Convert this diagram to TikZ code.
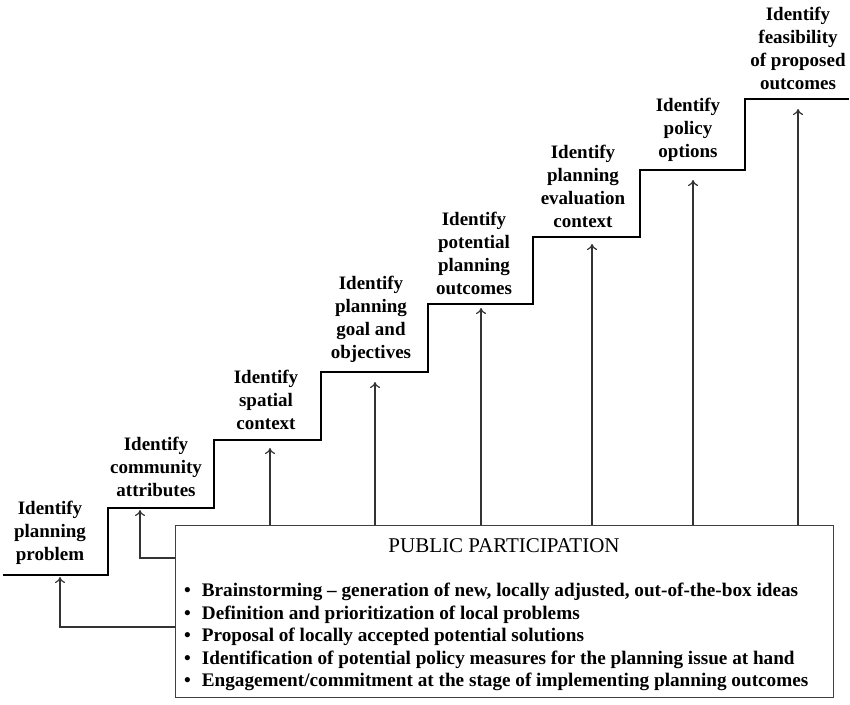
\documentclass[tikz,border=0pt]{standalone}
\usepackage{fontspec}
\setmainfont{Liberation Serif}
\usetikzlibrary{arrows.meta}
\begin{document}
\begin{tikzpicture}[x=1pt,y=-1pt,
  steplabel/.style={align=center,font=\bfseries\fontsize{19}{23}\selectfont,inner sep=0pt},
  stair/.style={line width=2.4pt,black,line join=miter},
  arr/.style={line width=1.1pt,draw=black!80,-{To[length=6pt,width=10pt,line width=1.2pt]}},
  boxstyle/.style={draw=black!75,line width=1.3pt,anchor=north west,minimum width=658pt,minimum height=172pt,inner sep=0pt},
  bulletline/.style={font=\bfseries\fontsize{19.2}{22.5}\selectfont,inner sep=0pt,anchor=west,align=left}]
\useasboundingbox (0,0) rectangle (850,704);
% staircase corners
\coordinate (s0) at (3,575);
\coordinate (s1) at (108,575);
\coordinate (s2) at (108,508);
\coordinate (s3) at (214,508);
\coordinate (s4) at (214,440);
\coordinate (s5) at (321,440);
\coordinate (s6) at (321,372);
\coordinate (s7) at (428,372);
\coordinate (s8) at (428,304);
\coordinate (s9) at (533,304);
\coordinate (s10) at (533,237);
\coordinate (s11) at (640,237);
\coordinate (s12) at (640,170);
\coordinate (s13) at (745,170);
\coordinate (s14) at (745,99);
\coordinate (s15) at (849,99);
\draw[stair] (s0)--(s1)--(s2)--(s3)--(s4)--(s5)--(s6)--(s7)--(s8)--(s9)--(s10)--(s11)--(s12)--(s13)--(s14)--(s15);
% labels
\node[steplabel] (l1) at (50,533) {Identify\\planning\\problem};
\node[steplabel] (l2) at (156,467) {Identify\\community\\attributes};
\node[steplabel] (l3) at (266,400) {Identify\\spatial\\context};
\node[steplabel] (l4) at (371,319) {Identify\\planning\\goal and\\objectives};
\node[steplabel] (l5) at (474,253) {Identify\\potential\\planning\\outcomes};
\node[steplabel] (l6) at (583,186) {Identify\\planning\\evaluation\\context};
\node[steplabel] (l7) at (688,130) {Identify\\policy\\options};
\node[steplabel] (l8) at (798,48) {Identify\\feasibility\\of proposed\\outcomes};
% box
\node[boxstyle] (box) at (175,525) {};
\node[inner sep=0pt,font=\fontsize{21}{24}\selectfont] (title) at (504,546) {PUBLIC PARTICIPATION};
\node[bulletline] (b1) at (184,592) {\textbullet\hspace{11pt}Brainstorming -- generation of new, locally adjusted, out-of-the-box ideas};
\node[bulletline] (b2) at (184,614.5) {\textbullet\hspace{11pt}Definition and prioritization of local problems};
\node[bulletline] (b3) at (184,637) {\textbullet\hspace{11pt}Proposal of locally accepted potential solutions};
\node[bulletline] (b4) at (184,659.5) {\textbullet\hspace{11pt}Identification of potential policy measures for the planning issue at hand};
\node[bulletline] (b5) at (184,682) {\textbullet\hspace{11pt}Engagement/commitment at the stage of implementing planning outcomes};
% arrow tips
\coordinate (t1) at (60,577);
\coordinate (t2) at (140,510);
\coordinate (t3) at (270,448);
\coordinate (t4) at (375,382);
\coordinate (t5) at (481,308);
\coordinate (t6) at (592,244);
\coordinate (t7) at (693,180);
\coordinate (t8) at (798,109);
\coordinate (e1) at (175,627);
\coordinate (e2) at (175,558);
\draw[arr] (e1) -| (t1);
\draw[arr] (e2) -| (t2);
\draw[arr] (box.north -| t3) -- (t3);
\draw[arr] (box.north -| t4) -- (t4);
\draw[arr] (box.north -| t5) -- (t5);
\draw[arr] (box.north -| t6) -- (t6);
\draw[arr] (box.north -| t7) -- (t7);
\draw[arr] (box.north -| t8) -- (t8);
\end{tikzpicture}
\end{document}
